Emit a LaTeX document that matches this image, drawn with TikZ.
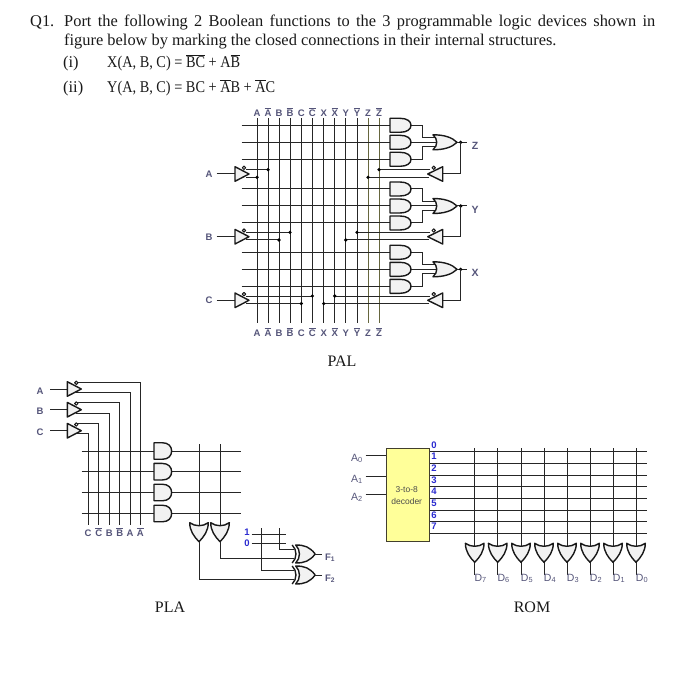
\documentclass[tikz,border=0pt]{standalone}
\usepackage{fontspec}
\setmainfont{Liberation Serif}
\newfontfamily\labfont{Liberation Sans}
\definecolor{wirec}{HTML}{262626}
\definecolor{olivec}{HTML}{66663E}
\definecolor{labc}{HTML}{55557A}
\definecolor{gatef}{HTML}{F2F2F2}
\definecolor{numc}{HTML}{2A2AD0}
\definecolor{decf}{HTML}{FFFF99}
\newcommand{\ovl}[1]{$\overline{\mbox{#1}}$}
\tikzset{
  wire/.style={draw=wirec,line width=1pt},
  gatebody/.style={draw=black!90,fill=gatef,line width=1.4pt,line join=round},
  bodytext/.style={anchor=base west,inner sep=0pt,font=\fontsize{16.4}{19}\selectfont,text=black!90},
  caption/.style={anchor=base,inner sep=0pt,font=\fontsize{16}{19}\selectfont,text=black!90},
  siglabel/.style={anchor=base,inner sep=0pt,font=\labfont\bfseries\fontsize{9.5}{12}\selectfont,text=labc},
  biglabel/.style={anchor=base,inner sep=0pt,font=\labfont\fontsize{10.5}{12}\selectfont,text=labc},
  declabel/.style={anchor=base,inner sep=0pt,font=\labfont\fontsize{8.5}{10}\selectfont,text=black!70},
  numlabel/.style={anchor=base,inner sep=0pt,font=\labfont\bfseries\fontsize{9.5}{11}\selectfont,text=numc},
  dotc/.style={circle,fill=black,inner sep=0pt,minimum size=3.6pt},
}
% AND gate pointing right
\newcommand{\gateand}[4]{\begin{scope}[shift={(#2,#3)},#4]
 \draw[gatebody] (0,-7)--(10,-7) .. controls (17,-7) and (21,-4) .. (21,0) .. controls (21,4) and (17,7) .. (10,7)--(0,7)--cycle;
 \coordinate (#1in) at (0,0); \coordinate (#1out) at (21,0);
\end{scope}}
% OR gate pointing right
\newcommand{\gateor}[3]{\begin{scope}[shift={(#2,#3)}]
 \draw[gatebody] (0,-7.5) .. controls (5,-3) and (5,3) .. (0,7.5) .. controls (11,7.5) and (19,5) .. (24,0) .. controls (19,-5) and (11,-7.5) .. (0,-7.5)--cycle;
 \coordinate (#1out) at (24,0);
\end{scope}}
% XOR gate pointing right
\newcommand{\gatexor}[3]{\begin{scope}[shift={(#2,#3)}]
 \draw[gatebody] (0,-9) .. controls (5,-4) and (5,4) .. (0,9) .. controls (9,9) and (14,7) .. (19.5,0) .. controls (14,-7) and (9,-9) .. (0,-9)--cycle;
 \draw[draw=black!90,line width=1.4pt] (-3.5,-9) .. controls (1.5,-4) and (1.5,4) .. (-3.5,9);
 \coordinate (#1out) at (19.5,0); \coordinate (#1ina) at (-1.5,-4.3); \coordinate (#1inb) at (-1.5,4.3);
\end{scope}}
% OR gate pointing down
\newcommand{\gateord}[3]{\begin{scope}[shift={(#2,#3)}]
 \draw[gatebody] (-9.3,0) .. controls (-4,4) and (4,4) .. (9.3,0) .. controls (9.3,8) and (5,14) .. (0,19) .. controls (-5,14) and (-9.3,8) .. (-9.3,0)--cycle;
 \coordinate (#1out) at (0,19);
\end{scope}}
% inverter pointing right, with bubble
\newcommand{\invright}[3]{\begin{scope}[shift={(#2,#3)}]
 \draw[gatebody] (0,-7.3)--(14,0)--(0,7.3)--cycle;
 \draw[gatebody,line width=1pt] (9,-6.2) circle[radius=1.7];
\end{scope}}
% inverter pointing left, with bubble
\newcommand{\invleft}[3]{\begin{scope}[shift={(#2,#3)}]
 \draw[gatebody] (0,-7.3)--(-15,0)--(0,7.3)--cycle;
 \draw[gatebody,line width=1pt] (-9,-6.2) circle[radius=1.7];
\end{scope}}
\begin{document}
\begin{tikzpicture}[x=1pt,y=-1pt]
\useasboundingbox[fill=white] (0,0) rectangle (700,684);
% ---- question text
\node[bodytext] (q) at (30,26.5) {Q1.};
\node[bodytext] (l1) at (64,26.5) {\makebox[591pt][s]{Port the following 2 Boolean functions to the 3 programmable logic devices shown in}};
\node[bodytext] (l2) at (64,46) {figure below by marking the closed connections in their internal structures.};
\node[bodytext] (i1) at (63,67.7) {(i)};
\node[bodytext] (f1) at (107,67.7) {\resizebox{133pt}{\height}{X(A, B, C) = \ovl{B}\ovl{C} + A\ovl{B}}};
\node[bodytext] (i2) at (63,92.3) {(ii)};
\node[bodytext] (f2) at (107,92.3) {\resizebox{168pt}{\height}{Y(A, B, C) = BC + \ovl{A}B + \ovl{A}C}};
\node[caption] (pal) at (342,366) {PAL};
\node[caption] (pla) at (170,612) {PLA};
\node[caption] (rom) at (532,612) {ROM};
% ---- PAL columns
\foreach \n/\x/\t in {1/257/A,2/268/\ovl{A},3/279/B,4/290/\ovl{B},5/301.3/C,6/312.3/\ovl{C},7/323.7/X,8/334.7/\ovl{X},9/345.7/Y,10/357/\ovl{Y}}{
  \coordinate (pt\n) at (\x,118); \coordinate (pb\n) at (\x,323);
  \draw[wire] (pt\n)--(pb\n);
  \node[siglabel] (ptl\n) at (\x,116.5) {\t};
  \node[siglabel] (pbl\n) at (\x,336) {\t};
}
\foreach \n/\x/\t in {11/368/Z,12/379/\ovl{Z}}{
  \coordinate (pt\n) at (\x,118); \coordinate (pb\n) at (\x,323);
  \draw[draw=olivec,line width=1pt] (pt\n)--(pb\n);
  \node[siglabel] (ptl\n) at (\x,116.5) {\t};
  \node[siglabel] (pbl\n) at (\x,336) {\t};
}
% ---- PAL product rows and gates
\foreach \grp/\ya/\yb/\yc/\yo/\yi/\nm in {z/125.3/142.3/159.3/142.3/174/Z,y/189/206/223/206/236.7/Y,x/252.3/269.3/286.3/269.3/300.3/X}{
  \coordinate (\grp la) at (241.7,\ya);
  \coordinate (\grp lb) at (241.7,\yb);
  \coordinate (\grp lc) at (241.7,\yc);
  \coordinate (\grp aout) at (411,\ya);
  \coordinate (\grp bout) at (411,\yb);
  \coordinate (\grp cout) at (411,\yc);
  \draw[wire] (\grp la)--(390,\ya) (\grp lb)--(390,\yb) (\grp lc)--(390,\yc);
  \draw[wire] (\grp aout)-|(422,\yo-4.5)--(436,\yo-4.5);
  \draw[wire] (\grp bout)--(437,\yb);
  \draw[wire] (\grp cout)-|(422,\yo+4.5)--(436,\yo+4.5);
  \gateand{\grp a}{390}{\ya}{}
  \gateand{\grp b}{390}{\yb}{}
  \gateand{\grp c}{390}{\yc}{}
  \gateor{\grp o}{433}{\yo}
  \coordinate (\grp fb) at (460.7,\yo);
  \coordinate (\grp end) at (467,\yo);
  \draw[wire] (\grp oout)--(\grp end);
  \node[dotc] at (\grp fb) {};
  \draw[wire] (\grp fb)|-(442.7,\yi);
  \node[biglabel,font=\labfont\bfseries\fontsize{10.5}{12}\selectfont] (\grp lab) at (475,\yo+7.5) {\nm};
}
% ---- PAL input inverters
\foreach \nm/\y/\up/\lo in {A/174/2/1,B/236.7/4/3,C/300.3/6/5}{
  \coordinate (i\nm s) at (216.7,\y);
  \draw[wire] (i\nm s)--(235,\y);
  \draw[wire] (246,\y-4.3)--(pt\up |- 0,\y-4.3);
  \draw[wire] (246,\y+3.3)--(pt\lo |- 0,\y+3.3);
  \invright{i\nm}{235}{\y}
  \node[dotc] at (pt\up |- 0,\y-4.3) {};
  \node[dotc] at (pt\lo |- 0,\y+3.3) {};
  \node[siglabel] (i\nm l) at (209,\y+3.5) {\nm};
}
% ---- PAL feedback lines
\foreach \y/\up/\lo in {174/12/11,236.7/10/9,300.3/8/7}{
  \draw[wire] (430,\y-4.3)--(pt\up |- 0,\y-4.3);
  \draw[wire] (429,\y+3.3)--(pt\lo |- 0,\y+3.3);
  \node[dotc] at (pt\up |- 0,\y-4.3) {};
  \node[dotc] at (pt\lo |- 0,\y+3.3) {};
}
\foreach \g/\y in {z/174,y/236.7,x/300.3}{\invleft{\g r}{442.7}{\y}}
% ---- PLA
\foreach \n/\x/\t/\ys in {1/88/C/433.7,2/98.7/\ovl{C}/423.3,3/109.3/B/413.3,4/119.7/\ovl{B}/402.7,5/130/A/392.3,6/140.3/\ovl{A}/382}{
  \coordinate (lb\n) at (\x,525);
  \coordinate (lt\n) at (\x,\ys);
  \draw[wire] (76,\ys)--(lt\n)--(lb\n);
  \node[siglabel] (lbl\n) at (\x,536.5) {\t};
}
\foreach \nm/\y in {A/389,B/409.7,C/430.7}{
  \coordinate (l\nm s) at (50,\y);
  \draw[wire] (l\nm s)--(67.3,\y);
  \invright{l\nm}{67.3}{\y}
  \node[siglabel] (l\nm l) at (40,\y+5) {\nm};
}
\foreach \n/\y in {1/451,2/471.7,3/492.5,4/513.5}{
  \coordinate (lp\n) at (81.7,\y);
  \coordinate (lq\n) at (240.7,\y);
  \draw[wire] (lp\n)--(154,\y);
  \draw[wire] (171,\y)--(lq\n);
  \gateand{la\n}{154}{\y}{xscale=0.84,yscale=1.18}
}
\coordinate (lo1t) at (199,444); \coordinate (lo2t) at (220,444);
\draw[wire] (lo1t)--(199,526); \draw[wire] (lo2t)--(220,526);
\gateord{lo1}{199}{522.7}
\gateord{lo2}{220}{522.7}
\gatexor{xa}{295.7}{554}
\gatexor{xb}{295.7}{575}
\draw[wire] (lo2out)|-(xainb);
\draw[wire] (lo1out)|-(xbinb);
\coordinate (h1a) at (251.7,534.3); \coordinate (h1b) at (286,534.3);
\coordinate (h0a) at (251.7,543); \coordinate (h0b) at (286,543);
\draw[wire] (h1a)--(h1b); \draw[wire] (h0a)--(h0b);
\coordinate (v1t) at (279.3,528.3); \coordinate (v0t) at (261.7,528.3);
\draw[wire] (v1t)|-(xaina);
\draw[wire] (v0t)|-(xbina);
\coordinate (f1e) at (321.7,554); \coordinate (f2e) at (321.7,575);
\draw[wire] (xaout)--(f1e); \draw[wire] (xbout)--(f2e);
\node[siglabel] (f1l) at (330,560) {F\textsubscript{1}};
\node[siglabel] (f2l) at (330,581) {F\textsubscript{2}};
\node[numlabel] (n1) at (247,535.5) {1};
\node[numlabel] (n0) at (247,546.5) {0};
% ---- ROM
\node[draw=black!70!olive,fill=decf,line width=1.2pt,minimum width=43pt,minimum height=93.3pt,inner sep=0pt,anchor=north west] (dec) at (386,447.7) {};
\node[declabel] (dt1) at (406.7,492) {3-to-8};
\node[declabel] (dt2) at (406.7,504.5) {decoder};
\foreach \n/\y/\ly in {0/455/461,1/476/482,2/494/500}{
  \coordinate (ra\n) at (365.7,\y);
  \draw[wire] (ra\n)--(dec.west |- 0,\y);
  \node[biglabel] (ral\n) at (357,\ly) {A\textsubscript{\n}};
}
\foreach \n/\y in {0/451.7,1/463.3,2/475,3/486.7,4/498.3,5/510,6/521.7,7/533.3}{
  \coordinate (rr\n) at (647.3,\y);
  \draw[wire] (dec.east |- 0,\y)--(rr\n);
  \node[numlabel] (rn\n) at (434,\y-3.7) {\n};
}
\foreach \n/\x in {7/474.7,6/497.7,5/521,4/544,3/567,2/590,1/613,0/636}{
  \coordinate (rv\n) at (\x,448.3);
  \coordinate (re\n) at (\x,575);
  \draw[wire] (rv\n)--(\x,546);
  \draw[wire] (\x,561)--(re\n);
  \gateord{ro\n}{\x}{543.3}
  \node[biglabel] (rdl\n) at (\x+6,581) {D\textsubscript{\n}};
}
\end{tikzpicture}
\end{document}
